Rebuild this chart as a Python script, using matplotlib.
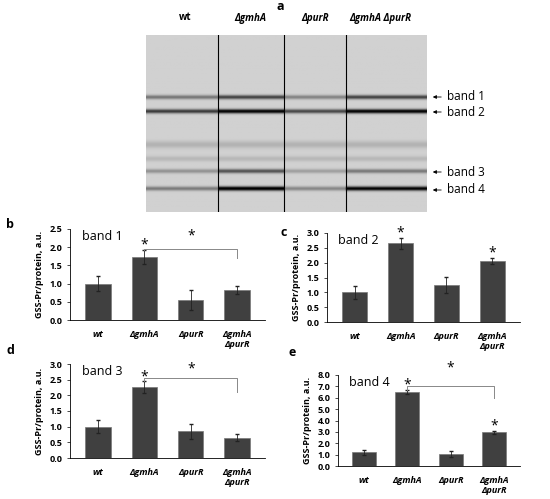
import numpy as np
import matplotlib
matplotlib.use("Agg")
import matplotlib.pyplot as plt

plt.rcParams["font.family"] = ["Open Sans", "DejaVu Sans"]

W, H = 550, 499
STRAINS = ["wt", "ΔgmhA", "ΔpurR", "ΔgmhA\nΔpurR"]
LANE_LABELS = ["wt", "ΔgmhA", "ΔpurR", "ΔgmhA ΔpurR"]
BAND_NAMES = ["band 1", "band 2", "band 3", "band 4"]

BAND1 = [1.0, 1.73, 0.55, 0.82]
BAND1_ERR = [0.2, 0.2, 0.27, 0.11]
BAND2 = [1.0, 2.65, 1.25, 2.07]
BAND2_ERR = [0.22, 0.18, 0.27, 0.1]
BAND3 = [1.0, 2.27, 0.85, 0.65]
BAND3_ERR = [0.2, 0.18, 0.25, 0.11]
BAND4 = [1.2, 6.5, 1.05, 2.95]
BAND4_ERR = [0.2, 0.2, 0.28, 0.15]

# blot band rows (fraction of blot height) and darkness per strain
BAND_ROWS = [0.35, 0.43, 0.77, 0.87]
BAND_DARK = [[0.35, 0.55, 0.3, 0.55],
             [0.6, 0.85, 0.55, 0.85],
             [0.25, 0.5, 0.2, 0.35],
             [0.35, 0.9, 0.3, 0.85]]
LANE_LINES = [1.03, 1.97, 2.85]


def px(x0, y0, x1, y1):
    return [x0 / W, 1 - y1 / H, (x1 - x0) / W, (y1 - y0) / H]


fig = plt.figure(figsize=(5.5, 4.99), dpi=100)

# ── blot ──
ax = fig.add_axes(px(146, 35, 427, 212))
ny, nx = 180, 280
yy = np.linspace(0, 1, ny)[:, None]
xx = np.linspace(0, 4, nx)[None, :]
img = np.full((ny, nx), 0.82)
strain_idx = np.searchsorted(LANE_LINES, xx[0])[None, :]
for row, dark in zip(BAND_ROWS, BAND_DARK):
    d = np.array(dark)[strain_idx]
    img = img - d * np.exp(-((yy - row) / 0.012) ** 2)
img = img - 0.12 * np.exp(-((yy - 0.62) / 0.02) ** 2) - 0.1 * np.exp(-((yy - 0.7) / 0.015) ** 2)
ax.imshow(np.clip(img, 0, 1), cmap="gray", vmin=0, vmax=1, aspect="auto",
          extent=[0, 4, 1, 0])
for xv in LANE_LINES:
    ax.axvline(xv, color="black", lw=0.8)
ax.set_axis_off()
for i, lab in enumerate(LANE_LABELS):
    fig.text((185 + 65 * i) / W, 1 - 18 / H, lab, ha="center", va="center",
             fontsize=7, fontweight="bold", style="normal" if i == 0 else "italic")
fig.text(280 / W, 1 - 7 / H, "a", fontsize=9, fontweight="bold", ha="center", va="center")
for name, yp in zip(BAND_NAMES, [97, 112, 172, 190]):
    fig.text(447 / W, 1 - yp / H, name, fontsize=8.5, va="center")
    fig.add_artist(matplotlib.patches.FancyArrowPatch(
        (444 / W, 1 - yp / H), (430 / W, 1 - yp / H), transform=fig.transFigure,
        arrowstyle="-|>", mutation_scale=5, lw=0.6, color="black"))


def bars(rect, vals, errs, ymax, step, title, stars, bracket, letter, lpos):
    a = fig.add_axes(px(*rect))
    x = np.arange(4)
    a.bar(x, vals, width=0.55, color="#404040", edgecolor="#777777", lw=0.5,
          yerr=errs, error_kw=dict(lw=0.6, capsize=1.5, ecolor="#222222"))
    a.set_ylim(0, ymax)
    a.set_xlim(-0.6, 3.6)
    ticks = np.arange(0, ymax + 1e-6, step)
    a.set_yticks(ticks)
    a.set_yticklabels([f"{v:.1f}" for v in ticks], fontsize=6.5, fontweight="bold")
    a.set_xticks(x)
    a.set_xticklabels(STRAINS, fontsize=6.5, fontweight="bold", style="italic", va="top")
    a.tick_params(axis="x", length=0, pad=7)
    a.tick_params(axis="y", length=2, width=0.5)
    for s in ["top", "right"]:
        a.spines[s].set_visible(False)
    a.spines["left"].set_linewidth(0.6)
    a.spines["bottom"].set_linewidth(0.6)
    a.set_ylabel("GSS-Pr/protein, a.u.", fontsize=6.5, fontweight="bold")
    a.text(-0.35, ymax * 0.92, title, fontsize=9, va="center")
    for i in stars:
        a.text(i, vals[i] + errs[i] - ymax * 0.03, "*", ha="center", va="bottom", fontsize=10)
    if bracket:
        top, low, sy = bracket
        a.plot([1, 1, 3, 3], [vals[1] + errs[1], top, top, low], color="#888888", lw=0.7)
        a.text(2, sy, "*", ha="center", va="center", fontsize=10, clip_on=False)
    fig.text(lpos[0] / W, 1 - lpos[1] / H, letter, fontsize=9, fontweight="bold",
             ha="center", va="center")


bars((70, 229, 265, 320), BAND1, BAND1_ERR, 2.5, 0.5, "band 1",
     [1], (1.95, 1.7, 2.3), "b", (10, 225))
bars((327, 233, 520, 322), BAND2, BAND2_ERR, 3.0, 0.5, "band 2",
     [1, 3], None, "c", (284, 232))
bars((70, 364, 265, 458), BAND3, BAND3_ERR, 3.0, 0.5, "band 3",
     [1], (2.55, 2.1, 2.85), "d", (10, 350))
bars((338, 375, 520, 466), BAND4, BAND4_ERR, 8.0, 1.0, "band 4",
     [1, 3], (7.0, 6.0, 8.6), "e", (292, 353))

fig.savefig("out.png", dpi=100, facecolor="white")
